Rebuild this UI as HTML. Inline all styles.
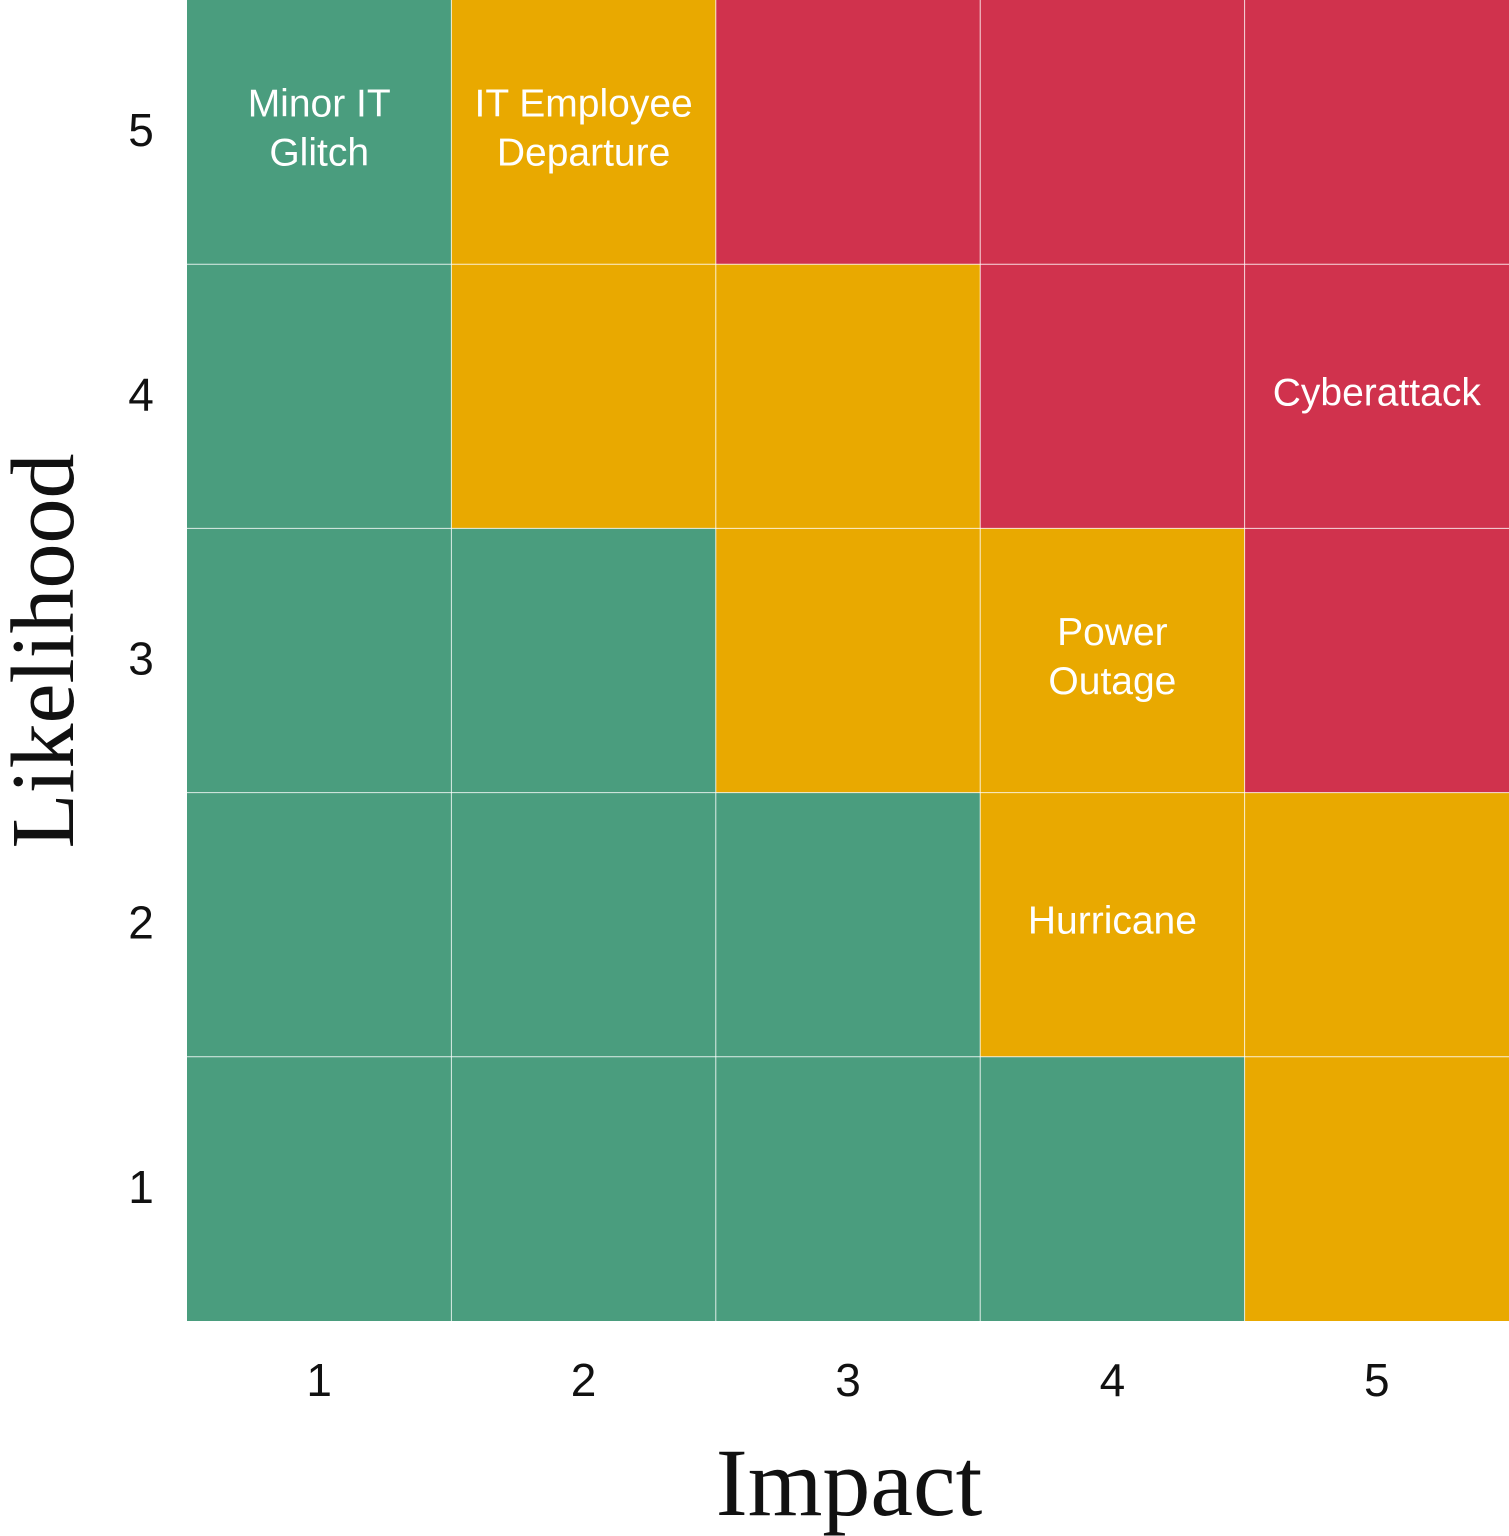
<!DOCTYPE html>
<html><head><meta charset="utf-8"><style>
html,body{margin:0;padding:0;background:#fff;}
svg{display:block;}
</style></head><body>
<svg id="chart" width="1509" height="1536" viewBox="0 0 1509 1536" xmlns="http://www.w3.org/2000/svg">
<g id="cells"></g>
<g id="grid"></g>
<g id="labels"></g>
<g id="xticks"></g>
<g id="yticks"></g>
<text x="849" y="1515" text-anchor="middle" font-family="'Liberation Serif',serif" font-size="96" fill="#111">Impact</text>
<text transform="translate(73,651) rotate(-90)" text-anchor="middle" font-family="'Liberation Serif',serif" font-size="90" fill="#111">Likelihood</text>
</svg>
<script>
const impacts = [1,2,3,4,5];
const likelihoods = [1,2,3,4,5];
// levels[row likelihood-1][impact-1]: 0 low, 1 medium, 2 high
const levels = [
  [0,0,0,0,1],
  [0,0,0,1,1],
  [0,0,1,1,2],
  [0,1,1,2,2],
  [0,1,2,2,2]
];
const levelColors = ["#4a9d7e","#e9a900","#d0324d"];
const riskNames = ["Minor IT|Glitch","IT Employee|Departure","Cyberattack","Power|Outage","Hurricane"];
const riskImpact = [1,2,5,4,4];
const riskLikelihood = [5,5,4,3,2];

const X0=187, X1=1509, Y0=0, Y1=1321;
const cw=(X1-X0)/impacts.length, ch=(Y1-Y0)/likelihoods.length;
const xs = i => X0 + (i-1)*cw;
const ys = l => Y1 - l*ch;
const NS="http://www.w3.org/2000/svg";
function mk(tag, attrs, parent){const e=document.createElementNS(NS,tag);for(const k in attrs)e.setAttribute(k,attrs[k]);parent.appendChild(e);return e;}
const cells=document.getElementById('cells');
likelihoods.forEach((l,li)=>impacts.forEach((im,ii)=>{
  const r=mk('rect',{x:xs(im),y:ys(l),width:cw,height:ch,fill:levelColors[levels[li][ii]]},cells);
  
  
}));
const grid=document.getElementById('grid');
for(let i=1;i<impacts.length;i++){const g=mk('line',{x1:X0+i*cw,x2:X0+i*cw,y1:Y0,y2:Y1,stroke:'#fff','stroke-width':1,'stroke-opacity':0.8},grid);
  
  }
for(let i=1;i<likelihoods.length;i++){const g=mk('line',{x1:X0,x2:X1,y1:Y0+i*ch,y2:Y0+i*ch,stroke:'#fff','stroke-width':1,'stroke-opacity':0.8},grid);
  
  }
const labels=document.getElementById('labels');
riskNames.forEach((n,k)=>{
  const lines=n.split('|');
  const cx=xs(riskImpact[k])+cw/2, cy=ys(riskLikelihood[k])+ch/2;
  const t=mk('text',{x:cx,'text-anchor':'middle','font-family':"'Liberation Sans',sans-serif",'font-size':39,fill:'#fff'},labels);
  
  
  lines.forEach((ln,j)=>{const ts=mk('tspan',{x:cx,y:cy+9+(j-(lines.length-1)/2)*49},t);ts.textContent=ln;});
});
const xt=document.getElementById('xticks');
impacts.forEach(im=>{const t=mk('text',{x:xs(im)+cw/2,y:1396,'text-anchor':'middle','font-family':"'Liberation Sans',sans-serif",'font-size':46,fill:'#111'},xt);
  
  
  t.textContent=im;});
const yt=document.getElementById('yticks');
likelihoods.forEach(l=>{const t=mk('text',{x:141,y:ys(l)+ch/2+14,'text-anchor':'middle','font-family':"'Liberation Sans',sans-serif",'font-size':46,fill:'#111'},yt);
  
  
  t.textContent=l;});
</script>
</body></html>
